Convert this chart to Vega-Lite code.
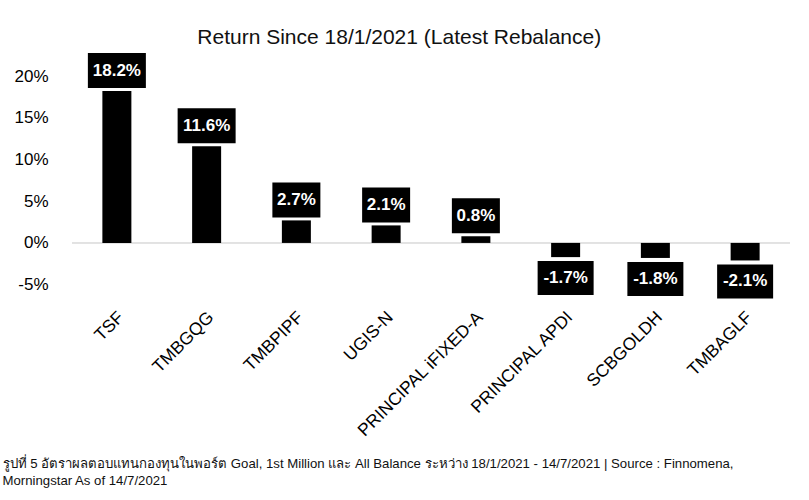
{
  "$schema": "https://vega.github.io/schema/vega-lite/v6.json",
  "width": 718,
  "height": 242,
  "autosize": {"type": "none"},
  "padding": {"left": 72, "top": 51, "right": 19, "bottom": 207},
  "background": "white",
  "config": {"font": "Liberation Sans", "view": {"stroke": null}},
  "title": {
    "text": "Return Since 18/1/2021 (Latest Rebalance)",
    "fontSize": 21,
    "fontWeight": "normal",
    "color": "#111111",
    "anchor": "middle",
    "frame": "bounds",
    "offset": 3,
    "dx": 3
  },
  "data": {
    "values": [
      {"fund": "TSF", "value": 18.2, "label": "18.2%"},
      {"fund": "TMBGQG", "value": 11.6, "label": "11.6%"},
      {"fund": "TMBPIPF", "value": 2.7, "label": "2.7%"},
      {"fund": "UGIS-N", "value": 2.1, "label": "2.1%"},
      {"fund": "PRINCIPAL iFIXED-A", "value": 0.8, "label": "0.8%"},
      {"fund": "PRINCIPAL APDI", "value": -1.7, "label": "-1.7%"},
      {"fund": "SCBGOLDH", "value": -1.8, "label": "-1.8%"},
      {"fund": "TMBAGLF", "value": -2.1, "label": "-2.1%"}
    ]
  },
  "layer": [
    {
      "mark": {"type": "rule", "color": "#e2e2e2", "strokeWidth": 1},
      "encoding": {"y": {"datum": 0, "type": "quantitative"}}
    },
    {
      "mark": {"type": "bar", "color": "#000000", "width": 29},
      "encoding": {
        "x": {
          "field": "fund",
          "type": "nominal",
          "sort": null,
          "scale": {"paddingInner": 0, "paddingOuter": 0},
          "axis": {
            "labelAngle": -45,
            "labelAlign": "right",
            "labelBaseline": "top",
            "labelFontSize": 17.5,
            "labelColor": "#000000",
            "labelPadding": 15,
            "labelOffset": -2,
            "labelLimit": 300,
            "domain": false,
            "ticks": false,
            "tickSize": 0,
            "title": ["รูปที่ 5 อัตราผลตอบแทนกองทุนในพอร์ต Goal, 1st Million และ All Balance ระหว่าง 18/1/2021 - 14/7/2021 | Source : Finnomena,", "Morningstar As of 14/7/2021"],
            "titleFontSize": 13.2,
            "titleFontWeight": "normal",
            "titleColor": "#111111",
            "titleAlign": "left",
            "titleAnchor": "start",
            "titleBaseline": "top",
            "titleLineHeight": 17,
            "titleX": -70,
            "titleY": 164
          }
        },
        "y": {
          "field": "value",
          "type": "quantitative",
          "scale": {"domain": [-6, 23], "nice": false},
          "axis": {
            "values": [-5, 0, 5, 10, 15, 20],
            "labelExpr": "datum.value + '%'",
            "labelFontSize": 17,
            "labelColor": "#000000",
            "labelPadding": 24,
            "domain": false,
            "ticks": false,
            "tickSize": 0,
            "grid": false,
            "title": null
          }
        }
      }
    },
    {
      "transform": [{"filter": "datum.value > 0 && length(datum.label) > 4"}],
      "mark": {"type": "rect", "color": "#000000", "width": 58, "height": 35, "baseline": "bottom", "yOffset": -3},
      "encoding": {
        "x": {"field": "fund", "type": "nominal", "sort": null},
        "y": {"field": "value", "type": "quantitative"}
      }
    },
    {
      "transform": [{"filter": "datum.value > 0 && length(datum.label) <= 4"}],
      "mark": {"type": "rect", "color": "#000000", "width": 48, "height": 35, "baseline": "bottom", "yOffset": -3},
      "encoding": {
        "x": {"field": "fund", "type": "nominal", "sort": null},
        "y": {"field": "value", "type": "quantitative"}
      }
    },
    {
      "transform": [{"filter": "datum.value < 0"}],
      "mark": {"type": "rect", "color": "#000000", "width": 56, "height": 34, "baseline": "top", "yOffset": 4},
      "encoding": {
        "x": {"field": "fund", "type": "nominal", "sort": null},
        "y": {"field": "value", "type": "quantitative"}
      }
    },
    {
      "transform": [{"filter": "datum.value > 0"}],
      "mark": {"type": "text", "color": "#ffffff", "fontSize": 17, "fontWeight": "bold", "baseline": "middle", "dy": -20},
      "encoding": {
        "x": {"field": "fund", "type": "nominal", "sort": null},
        "y": {"field": "value", "type": "quantitative"},
        "text": {"field": "label"}
      }
    },
    {
      "transform": [{"filter": "datum.value < 0"}],
      "mark": {"type": "text", "color": "#ffffff", "fontSize": 17, "fontWeight": "bold", "baseline": "middle", "dy": 21},
      "encoding": {
        "x": {"field": "fund", "type": "nominal", "sort": null},
        "y": {"field": "value", "type": "quantitative"},
        "text": {"field": "label"}
      }
    }
  ]
}
